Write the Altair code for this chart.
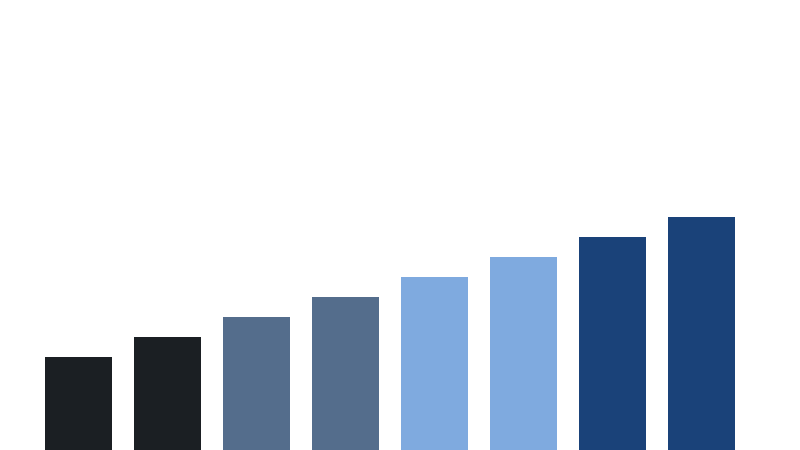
import pandas as pd
import altair as alt

# Bar data (no axes shown)
categories = ["A", "B", "C", "D", "E", "F", "G", "H"]
values = [93, 113, 133, 153, 173, 193, 213, 233]
groups = ["g1", "g1", "g2", "g2", "g3", "g3", "g4", "g4"]
group_colors = ["#1b1f23", "#546d8c", "#7faadf", "#1a4279"]


def main():
    df = pd.DataFrame({"cat": categories, "value": values, "group": groups})

    chart = alt.Chart(df).mark_bar().encode(
        x=alt.X("cat:N", sort=categories, axis=None,
                scale=alt.Scale(paddingInner=22 / 89, paddingOuter=0)),
        y=alt.Y("value:Q", axis=None, scale=alt.Scale(domain=[0, 442], nice=False)),
        color=alt.Color("group:N", legend=None,
                        scale=alt.Scale(domain=["g1", "g2", "g3", "g4"], range=group_colors)),
    ).properties(
        width=690,
        height=442,
        padding={"left": 37, "top": 0, "right": 0, "bottom": 0},
        autosize=alt.AutoSizeParams(type="none"),
        background="white",
    ).configure_view(stroke=None)

    chart.save("out.html", embed_options={"renderer": "svg", "actions": False})


if __name__ == "__main__":
    main()
